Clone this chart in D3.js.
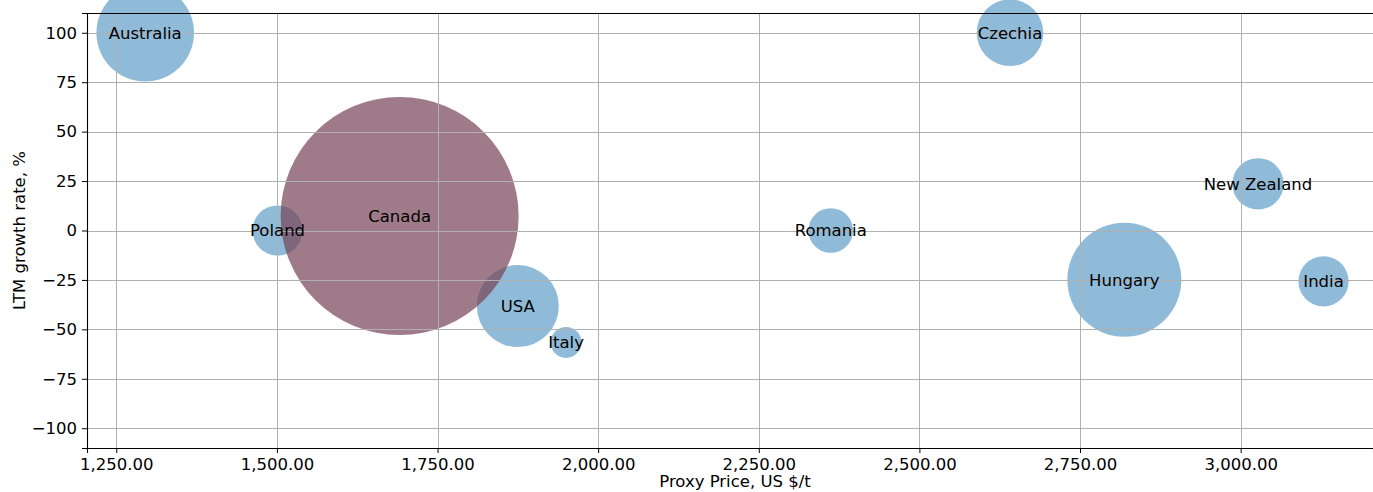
<!DOCTYPE html>
<html>
<head>
<meta charset="utf-8">
<script src="https://cdn.jsdelivr.net/npm/d3@7"></script>
<style>
  body { margin: 0; background: #fff; }
  svg { display: block; font-family: "DejaVu Sans", sans-serif; }
</style>
</head>
<body>
<div id="chart"></div>
<script>
// chart data
var countries = ["Australia", "Poland", "USA", "Italy", "Romania", "Czechia", "Hungary", "New Zealand", "India", "Canada"];
var price     = [1295, 1501, 1875, 1950, 2362, 2641, 2819, 3027, 3129, 1691];
var growth    = [100, 0, -38.2, -56.6, 0, 100, -24.9, 23.6, -25.7, 7.3];
var volume    = [238, 63, 168, 24, 50, 111, 325, 66, 63, 1416];
var highlight = ["Canada"];
var yTicks = [-100, -75, -50, -25, 0, 25, 50, 75, 100];
var xTicks = [1250, 1500, 1750, 2000, 2250, 2500, 2750, 3000];

var W = 1373, H = 492;
var margin = { top: 13, left: 87, right: 0, bottom: 44 };
var fs = 16.5;

var svg = d3.select("#chart").append("svg")
    .attr("width", W).attr("height", H);

var x = d3.scaleLinear().domain([1204.4, 3206]).range([margin.left, W]);
var y = d3.scaleLinear().domain([-110, 110]).range([H - margin.bottom, margin.top]);
var r = d3.scaleSqrt().domain([0, 1416]).range([0, 119]);

var rows = countries.map(function(c, i) {
    return { name: c, price: price[i], growth: growth[i], vol: volume[i] };
});

// bubbles (highlighted last so it sits on top)
svg.append("g").selectAll("circle")
    .data(rows)
    .enter().append("circle")
    .attr("cx", function(d) { return x(d.price); })
    .attr("cy", function(d) { return y(d.growth); })
    .attr("r", function(d) { return r(d.vol); })
    .attr("fill", function(d) { return highlight.indexOf(d.name) >= 0 ? "#764156" : "#1f77b4"; })
    .attr("fill-opacity", function(d) { return highlight.indexOf(d.name) >= 0 ? 0.7 : 0.5; });

// grid on top of the bubbles, like matplotlib default
var grid = svg.append("g").attr("stroke", "#b0b0b0").attr("stroke-width", 1);
grid.selectAll(".gx").data(xTicks).enter().append("line")
    .attr("x1", function(d) { return Math.round(x(d)) + 0.5; })
    .attr("x2", function(d) { return Math.round(x(d)) + 0.5; })
    .attr("y1", margin.top).attr("y2", H - margin.bottom);
grid.selectAll(".gy").data(yTicks).enter().append("line")
    .attr("y1", function(d) { return Math.round(y(d)) + 0.5; })
    .attr("y2", function(d) { return Math.round(y(d)) + 0.5; })
    .attr("x1", margin.left).attr("x2", W);

// labels
svg.append("g").selectAll("text")
    .data(rows)
    .enter().append("text")
    .attr("x", function(d) { return x(d.price); })
    .attr("y", function(d) { return y(d.growth); })
    .attr("dy", "0.36em")
    .attr("text-anchor", "middle")
    .attr("font-size", fs)
    .attr("fill", "#000")
    .text(function(d) { return d.name; });

// axes
var xAxis = d3.axisBottom(x).tickValues(xTicks).tickFormat(d3.format(",.2f"))
    .tickSize(5).tickPadding(5);
var yAxis = d3.axisLeft(y).tickValues(yTicks).tickFormat(function(d) { return d < 0 ? "\u2212" + Math.abs(d) : d; })
    .tickSize(5).tickPadding(5);

var gx = svg.append("g").attr("transform", "translate(0," + (H - margin.bottom) + ")").call(xAxis);
var gy = svg.append("g").attr("transform", "translate(" + margin.left + ",0)").call(yAxis);
[gx, gy].forEach(function(g) {
    g.selectAll("text").attr("font-size", fs).attr("font-family", "DejaVu Sans").attr("fill", "#000");
    g.selectAll("line").attr("stroke", "#000");
    g.select(".domain").attr("stroke", "#000").attr("stroke-width", 1.1);
});

// top spine
svg.append("line")
    .attr("x1", margin.left).attr("x2", W)
    .attr("y1", margin.top + 0.5).attr("y2", margin.top + 0.5)
    .attr("stroke", "#000").attr("stroke-width", 1.1);

// axis titles
svg.append("text")
    .attr("x", (margin.left + W) / 2 + 5).attr("y", 487)
    .attr("text-anchor", "middle").attr("font-size", fs)
    .text("Proxy Price, US $/t");
svg.append("text")
    .attr("transform", "translate(25," + ((margin.top + H - margin.bottom) / 2) + ") rotate(-90)")
    .attr("text-anchor", "middle").attr("font-size", fs)
    .text("LTM growth rate, %");
</script>
</body>
</html>
